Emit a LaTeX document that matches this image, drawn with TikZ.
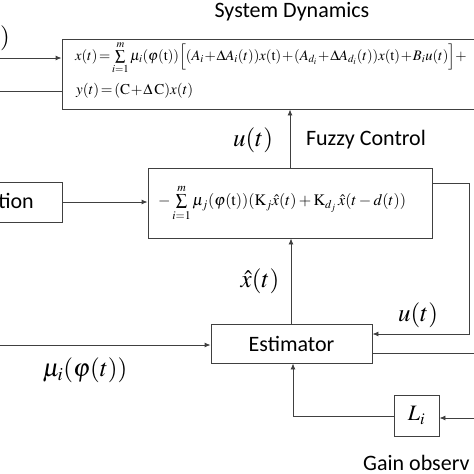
\documentclass[tikz,border=0pt]{standalone}
\usepackage{mathptmx}
\usepackage[no-math]{fontspec}
\newfontfamily\cb{Carlito}
\usetikzlibrary{arrows.meta}
\newcommand{\tightmath}{\medmuskip=1mu\relax\thickmuskip=2mu\relax}
\tikzset{
  blk/.style={draw=black!75, line width=0.9pt, rectangle, inner sep=0pt},
  conn/.style={draw=black!75, line width=0.9pt},
  arr/.style={conn, -{Latex[length=6pt,width=5pt]}},
  ttl/.style={font=\cb\fontsize{22}{24}\selectfont, inner sep=0pt},
  mlab/.style={font=\fontsize{25}{28}\selectfont, inner sep=0pt},
  eqn/.style={font=\fontsize{15}{17}\selectfont, inner sep=0pt},
  eqa/.style={font=\fontsize{14.5}{17}\selectfont, inner sep=0pt},
  eqb/.style={font=\fontsize{16}{18}\selectfont, inner sep=0pt},
}
\begin{document}
\begin{tikzpicture}[x=1pt,y=-1pt]
\useasboundingbox (0,0) rectangle (474,474);
\clip (0,0) rectangle (474,474);
% boxes
\node[blk, minimum width=460pt, minimum height=70pt] (sys) at (292,74) {};
\node[blk, minimum width=284pt, minimum height=70pt] (fuz) at (290,203) {};
\node[blk, minimum width=162pt, minimum height=40pt] (tion) at (-19,202) {};
\node[blk, minimum width=161pt, minimum height=39pt] (est) at (291.5,343.5) {};
\node[blk, minimum width=45pt, minimum height=41pt, font=\fontsize{22}{24}\selectfont] (L) at (416.5,415.5) {$L_i$};
% texts
\node[ttl] (sdt) at (292,12) {System Dynamics};
\node[ttl] (fct) at (366,140) {Fuzzy Control};
\node[ttl, anchor=east] (tiont) at (34,201) {tion};
\node[ttl] (estt) at (est.center) {Estimator};
\node[ttl, anchor=west] (gain) at (363,463) {Gain observ};
\node[mlab] (paren) at (5,38) {$)$};
\node[mlab] (u1) at (253,140) {$u(t)$};
\node[mlab] (xh) at (260,281) {$\hat{x}(t)$};
\node[mlab] (u2) at (418,315) {$u(t)$};
\node[mlab] (mu) at (85,370) {$\mu_i(\varphi(t))$};
\node[eqa, anchor=west] (eq1) at (75,58) {$\tightmath x(t)=\sum\limits_{i=1}^{m}\mu_i(\varphi(\mathrm{t}))\Big[(A_i+\Delta A_i(t))x(\mathrm{t})+(A_{d_i}+\Delta A_{d_i}(t))x(\mathrm{t})+B_i u(t)\Big]+$};
\node[eqn, anchor=west] (eq2) at (76,91) {$\tightmath y(t)=(\mathrm{C}+\Delta\,\mathrm{C})x(t)$};
\node[eqb, anchor=west] (eq3) at (158,203) {$-\sum\limits_{i=1}^{m}\mu_j(\varphi(\mathrm{t}))(\mathrm{K}_j\hat{x}(t)+\mathrm{K}_{d_j}\,\hat{x}(t-d(t))$};
% coordinates
\coordinate (inL) at (0,58);
\coordinate (outL) at (0,91);
\coordinate (c1) at (469,183);
\coordinate (c2) at (469,334);
\coordinate (muin) at (0,345);
\coordinate (estout) at (480,353);
\coordinate (c3) at (293,416);
\coordinate (lin) at (480,418);
% connectors
\draw[arr] (inL) -- (inL -| sys.west);
\draw[conn] (outL -| sys.west) -- (outL);
\draw[arr] (fuz.north -| 290,0) -- (sys.south -| 290,0);
\draw[arr] (tion.east) -- (fuz.west |- tion.east);
\draw[arr] (fuz.east |- c1) -- (c1) -- (c2) -- (est.east |- c2);
\draw[arr] (est.north -| 291,0) -- (fuz.south -| 291,0);
\draw[arr] (muin) -- (est.west |- muin);
\draw[conn] (est.east |- estout) -- (estout);
\draw[arr] (L.west |- c3) -- (c3) -- (est.south -| c3);
\draw[arr] (lin) -- (L.east |- lin);
\end{tikzpicture}
\end{document}
